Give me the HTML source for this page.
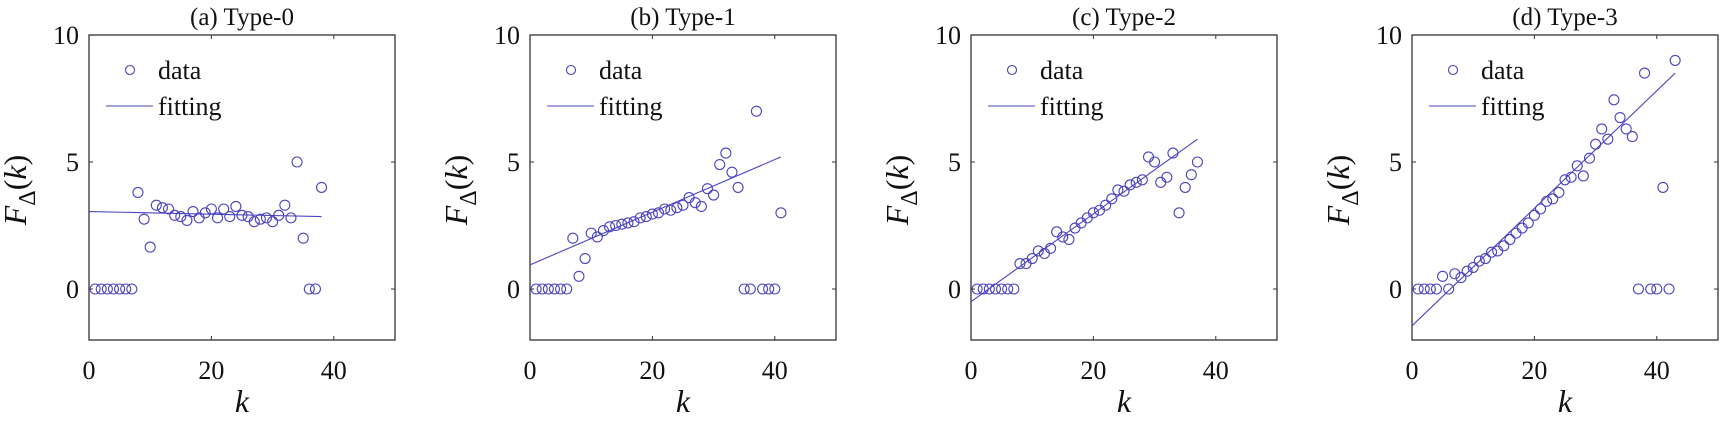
<!DOCTYPE html>
<html><head><meta charset="utf-8"><style>
html,body{margin:0;padding:0;background:#fff;}
svg text{font-family:"Liberation Serif","DejaVu Serif",serif;fill:#111;}
</style></head><body>
<svg id="s" width="1724" height="417" xmlns="http://www.w3.org/2000/svg"></svg>
<script>
const P=[
{t:"(a) Type-0",fit:[0,3.05,38,2.85],d:[0,0,0,0,0,0,0,3.8,2.75,1.65,3.3,3.2,3.15,2.9,2.85,2.7,3.05,2.8,3.0,3.15,2.8,3.15,2.85,3.25,2.9,2.85,2.65,2.75,2.8,2.65,2.9,3.3,2.8,5.0,2.0,0,0,4.0]},
{t:"(b) Type-1",fit:[0,0.95,41,5.2],d:[0,0,0,0,0,0,2.0,0.5,1.2,2.2,2.05,2.3,2.45,2.5,2.55,2.6,2.65,2.8,2.85,2.95,3.0,3.15,3.1,3.2,3.3,3.6,3.4,3.25,3.95,3.7,4.9,5.35,4.6,4.0,0,0,7.0,0,0,0,3.0]},
{t:"(c) Type-2",fit:[0,-0.5,37,5.9],d:[0,0,0,0,0,0,0,1.0,1.0,1.2,1.5,1.4,1.6,2.25,2.05,1.95,2.4,2.6,2.8,3.0,3.1,3.3,3.55,3.9,3.85,4.1,4.2,4.3,5.2,5.0,4.2,4.4,5.35,3.0,4.0,4.5,5.0]},
{t:"(d) Type-3",fit:[0,-1.45,43,8.5],d:[0,0,0,0,0.5,0,0.6,0.45,0.7,0.85,1.1,1.2,1.45,1.5,1.7,1.95,2.2,2.4,2.6,2.9,3.15,3.45,3.55,3.8,4.3,4.4,4.85,4.45,5.15,5.7,6.3,5.9,7.45,6.75,6.3,6.0,0,8.5,0,0,4.0,0,9.0]}
];
let h="";const C="#4a44c0";
P.forEach((p,i)=>{
 const L=89+441*i,R=L+306,T=35,B=340;
 const X=k=>L+k*6.12,Y=v=>289-v*25.4;
 h+=`<rect x="${L}" y="${T}" width="306" height="305" fill="none" stroke="#333" stroke-width="1.3"/>`;
 [0,20,40].forEach(k=>{h+=`<line x1="${X(k)}" y1="${B}" x2="${X(k)}" y2="${B-4}" stroke="#333"/><line x1="${X(k)}" y1="${T}" x2="${X(k)}" y2="${T+4}" stroke="#333"/><text x="${X(k)}" y="379" font-size="26" text-anchor="middle">${k}</text>`;});
 [0,5,10].forEach(v=>{h+=`<line x1="${L}" y1="${Y(v)}" x2="${L+4}" y2="${Y(v)}" stroke="#333"/><line x1="${R}" y1="${Y(v)}" x2="${R-4}" y2="${Y(v)}" stroke="#333"/><text x="${L-10}" y="${Y(v)+9}" font-size="26" text-anchor="end">${v}</text>`;});
 h+=`<text x="${(L+R)/2}" y="25" font-size="25" text-anchor="middle">${p.t}</text>`;
 h+=`<text x="${(L+R)/2}" y="412" font-size="32" font-style="italic" text-anchor="middle">k</text>`;
 h+=`<text transform="translate(${L-63},${190}) rotate(-90)" font-size="32" text-anchor="middle"><tspan font-style="italic">F</tspan><tspan font-size="24" dy="9">Δ</tspan><tspan dy="-9">(</tspan><tspan font-style="italic">k</tspan>)</text>`;
 const f=p.fit;
 h+=`<line x1="${X(f[0])}" y1="${Y(f[1])}" x2="${X(f[2])}" y2="${Y(f[3])}" stroke="${C}" stroke-width="1.1"/>`;
 p.d.forEach((v,j)=>{h+=`<circle cx="${X(j+1)}" cy="${Y(v)}" r="5" fill="none" stroke="${C}" stroke-width="1.1"/>`;});
 h+=`<circle cx="${L+41}" cy="70" r="4.5" fill="none" stroke="${C}" stroke-width="1.1"/><text x="${L+69}" y="79" font-size="26">data</text>`;
 h+=`<line x1="${L+17}" y1="106" x2="${L+64}" y2="106" stroke="${C}" stroke-width="1.1"/><text x="${L+69}" y="115" font-size="26">fitting</text>`;
});
document.getElementById("s").innerHTML=h;
</script>
</body></html>
